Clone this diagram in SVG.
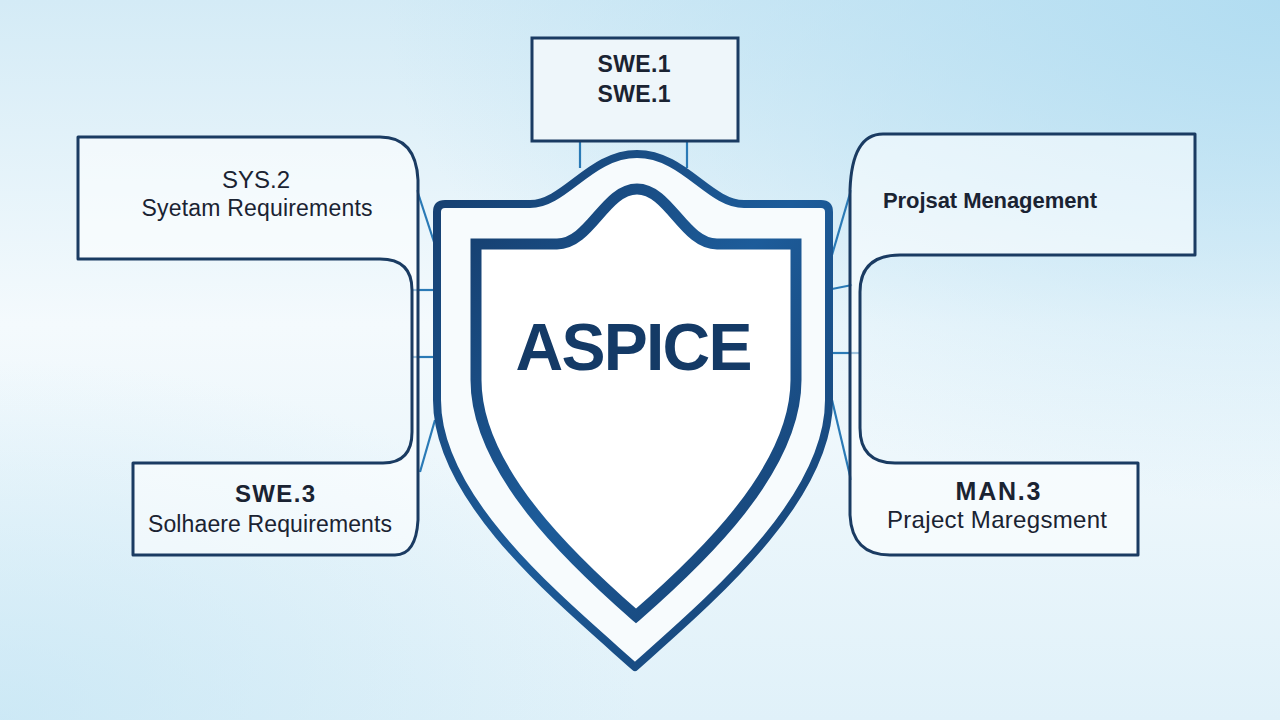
<svg xmlns="http://www.w3.org/2000/svg" width="1280" height="720" viewBox="0 0 1280 720">
<defs>
<linearGradient id="bg" x1="0" y1="0" x2="0" y2="1">
<stop offset="0" stop-color="#d4ebf6"/>
<stop offset="0.45" stop-color="#f4fafd"/>
<stop offset="1" stop-color="#e0f1f9"/>
</linearGradient>
<radialGradient id="tr" cx="1" cy="0" r="0.7">
<stop offset="0" stop-color="#b0dcf1" stop-opacity="0.95"/>
<stop offset="1" stop-color="#b0dcf1" stop-opacity="0"/>
</radialGradient>
<radialGradient id="bl" cx="0" cy="1" r="0.5">
<stop offset="0" stop-color="#c4e5f4" stop-opacity="0.7"/>
<stop offset="1" stop-color="#c4e5f4" stop-opacity="0"/>
</radialGradient>
<linearGradient id="sh" x1="0" y1="0" x2="1" y2="1">
<stop offset="0" stop-color="#163e6e"/>
<stop offset="0.5" stop-color="#1d5c9a"/>
<stop offset="1" stop-color="#163e6e"/>
</linearGradient>
<style>
.box{fill:#ffffff;fill-opacity:0.55;stroke:#1a3b62;stroke-width:3;stroke-linejoin:round}
.con{stroke:#2a7ab6;stroke-width:2.2;fill:none}
.t{font-family:"Liberation Sans",Arial,sans-serif;fill:#1a2332;text-anchor:middle}
.b{font-weight:bold}
</style>
</defs>
<rect width="1280" height="720" fill="url(#bg)"/>
<rect width="1280" height="720" fill="url(#tr)"/>
<rect width="1280" height="720" fill="url(#bl)"/>

<g id="connectors">
<line class="con" x1="580" y1="141" x2="580" y2="168"/>
<line class="con" x1="687" y1="141" x2="687" y2="168"/>
<line class="con" x1="417" y1="190" x2="435" y2="245"/>
<line class="con" x1="412" y1="290" x2="436" y2="290"/>
<line class="con" x1="412" y1="357" x2="436" y2="357"/>
<line class="con" x1="435" y1="420" x2="420" y2="472"/>
<line class="con" x1="851" y1="190" x2="832" y2="255"/>
<line class="con" x1="832" y1="289" x2="852" y2="285"/>
<line class="con" x1="832" y1="353" x2="860" y2="353"/>
<line class="con" x1="832" y1="400" x2="851" y2="480"/>
</g>

<g id="node-left">
<path class="box" d="M78,137 H380 Q416,137 418,180 V520 Q416,555 395,555 H133 V463 H383 Q412,463 412,432 V290 Q412,259 380,259 H78 Z"/>
<text class="t" x="256" y="188" font-size="24">SYS.2</text>
<text class="t" x="257" y="216" font-size="23" textLength="231">Syetam Requirements</text>
<text class="t b" x="275" y="502" font-size="24" textLength="80">SWE.3</text>
<text class="t" x="270" y="532" font-size="23" textLength="244">Solhaere Requirements</text>
</g>

<g id="node-right">
<path class="box" d="M883,134 H1195 V255 H900 Q860,255 860,292 V428 Q860,463 895,463 H1138 V555 H890 Q852,555 850,515 V190 Q852,134 883,134 Z"/>
<text class="t b" x="883" y="208" font-size="22" textLength="214" style="text-anchor:start">Projsat Menagement</text>
<text class="t b" x="998" y="500" font-size="25" textLength="85">MAN.3</text>
<text class="t" x="997" y="528" font-size="24" textLength="220">Praject Maregsment</text>
</g>

<g id="node-top">
<rect x="532" y="38" width="206" height="103" fill="#eef6fa" stroke="#1a3b62" stroke-width="3"/>
<text class="t b" x="634" y="72" font-size="23" textLength="73">SWE.1</text>
<text class="t b" x="634" y="102" font-size="23" textLength="73">SWE.1</text>
</g>

<g id="node-shield">
<path d="M437,212 Q437,204 445,204 H530 C565,204 590,154 637,154 C684,154 709,204 744,204 H821 Q829,204 829,212 V400 C829,500 710,600 635,667 C560,600 437,500 437,400 Z" fill="#f7fbfd" stroke="url(#sh)" stroke-width="8" stroke-linejoin="round"/>
<path d="M476,244 H557 C590,244 605,189 637,189 C669,189 684,244 717,244 H796 V380 C796,470 700,560 636,616 C572,560 476,470 476,380 Z" fill="#ffffff" stroke="url(#sh)" stroke-width="11" stroke-linejoin="miter"/>
<text x="634" y="370" font-family="Liberation Sans,Arial,sans-serif" font-weight="bold" font-size="66" fill="#143a66" text-anchor="middle" textLength="237">ASPICE</text>
</g>
</svg>
